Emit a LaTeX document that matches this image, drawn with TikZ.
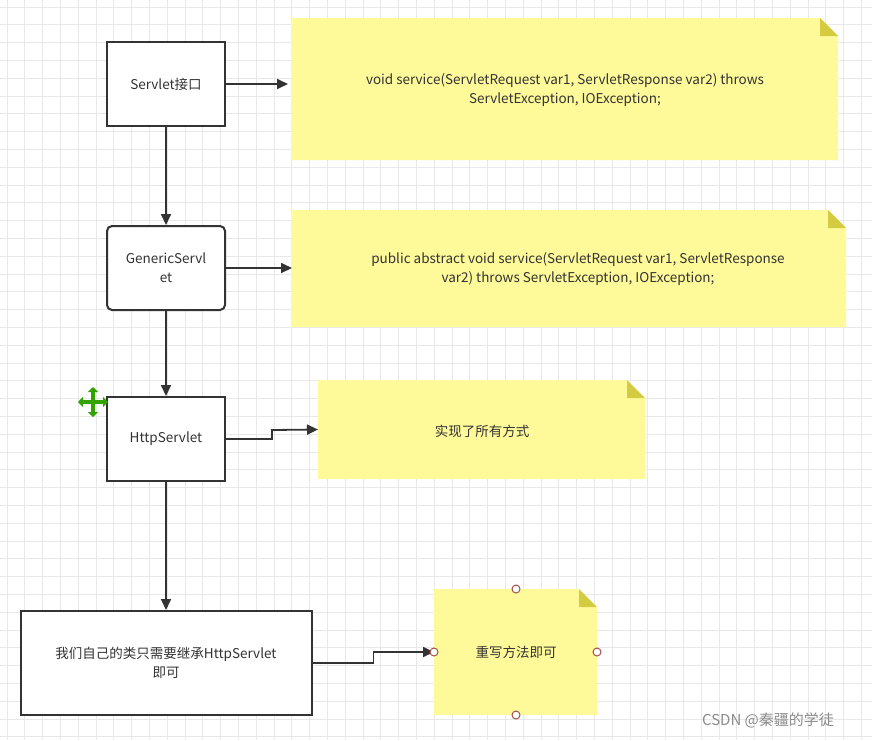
\documentclass[tikz,border=0pt]{standalone}
\usepackage{fontspec}
\setmainfont{Noto Sans CJK SC}
\usetikzlibrary{arrows.meta}
\tikzset{
  box/.style={draw=black!80,line width=2pt,fill=white,minimum width=118pt,minimum height=84pt,align=center,text=black!80,font=\fontsize{13.5}{19}\selectfont},
  link/.style={draw=black!80,line width=1.8pt,-{Triangle[length=11pt,width=10pt]}},
  txt/.style={align=center,text=black!80,font=\fontsize{13.5}{19}\selectfont},
  dot/.style={circle,draw=red!50!black!70,fill=white,line width=1pt,inner sep=0pt,minimum size=8pt},
}
\newcommand{\notebox}[5]{% x1 y1 x2 y2 name
  \fill[yellow!40] (#1,#2) -- ({#3-18},#2) -- (#3,{#2+18}) -- (#3,#4) -- (#1,#4) -- cycle;
  \fill[olive!55!yellow!70] ({#3-18},#2) -- (#3,{#2+18}) -- ({#3-18},{#2+18}) -- cycle;
  \coordinate (#5) at ({(#1+#3)/2},{(#2+#4)/2});
  \coordinate (#5w) at (#1,{(#2+#4)/2});
}
\begin{document}
\begin{tikzpicture}[x=1pt,y=-1pt]
	%BACKGROUND
	\fill[white] (0,0) rectangle (872,740);
	\useasboundingbox (0,0) rectangle (872,740);
	\foreach \i in {0,...,49}{
		\draw[black!9,line width=0.8pt] ({7+17.8*\i},0)--({7+17.8*\i},740);	%vertical grid
		\draw[black!9,line width=0.8pt] (0,{7+17.8*\i})--(872,{7+17.8*\i});	%horizontal grid
	}

	%NOTES
	\notebox{291}{18}{838}{160}{n1}
	\notebox{291}{210}{846}{327}{n2}
	\notebox{318}{380}{645}{479}{n3}
	\notebox{434}{589}{597}{715}{n4}
	\node[txt] at (565,90) {void service(ServletRequest var1, ServletResponse var2) throws\\ServletException, IOException;};
	\node[txt] at (578,269) {public abstract void service(ServletRequest var1, ServletResponse\\var2) throws ServletException, IOException;};
	\node[txt] at (482,431) {实现了所有方式};
	\node[txt] at (516,652) {重写方法即可};

	%BOXES
	\node[box] (servlet) at (166,84) {Servlet接口};
	\node[box,rounded corners=5pt] (generic) at (166,268) {GenericServl\\et};
	\node[box] (http) at (166,439) {HttpServlet};
	\node[box,minimum width=291pt,minimum height=104pt] (mine) at (166,663) {我们自己的类只需要继承HttpServlet\\即可};

	%CONNECTORS
	\draw[link] (servlet) -- (generic);
	\draw[link] (generic) -- (http);
	\draw[link] (http) -- (mine);
	\draw[link] (servlet.east) -- ++(62,0);
	\draw[link] (generic.east) -- ++(66,0);
	\draw[link] (http.east) -- ++(46,0) -- ++(0,-9) -- (n3w);
	\draw[link] (mine.east) -- ++(61,0) -- ++(0,-11) -- (n4w);

	%HANDLES
	\node[dot] at (516,589) {};
	\node[dot] at (n4w) {};
	\node[dot] at (597,652) {};
	\node[dot] at (516,715) {};
	\begin{scope}[shift={(93,402)},green!55!black!80!yellow]
		\draw[line width=3.5pt,{Triangle[length=5pt,width=10pt]}-{Triangle[length=5pt,width=10pt]}] (-15,0)--(15,0);
		\draw[line width=3.5pt,{Triangle[length=5pt,width=10pt]}-{Triangle[length=5pt,width=10pt]}] (0,-15)--(0,15);
	\end{scope}

	%WATERMARK
	\node[text=black!45,font=\fontsize{15}{17}\selectfont] at (768,720) {CSDN @秦疆的学徒};
\end{tikzpicture}
\end{document}
